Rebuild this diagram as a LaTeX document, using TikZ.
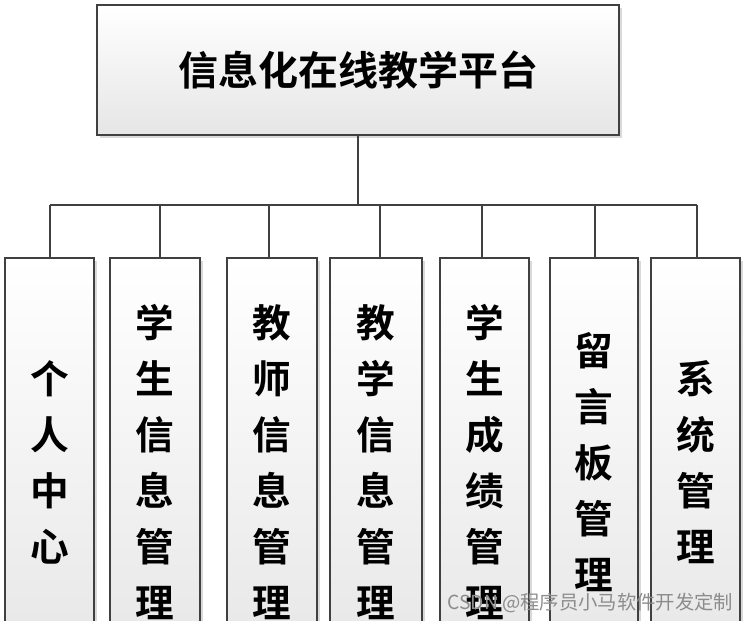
\documentclass[tikz,border=0pt]{standalone}
\usepackage{fontspec}
\setmainfont{Noto Sans CJK SC}
\newfontfamily\cjkbold{Noto Sans CJK SC Bold}
\usetikzlibrary{shadows}
\tikzset{
	modbox/.style={draw=black!75, line width=0.8pt, top color=white, bottom color=black!10,
		drop shadow={shadow xshift=2pt, shadow yshift=-2pt, opacity=0.3}},
	link/.style={draw=black!75, line width=1.6pt},
	modtext/.style={font=\cjkbold\fontsize{29}{42}\selectfont, align=center, inner sep=0pt}
}
\begin{document}
\begin{tikzpicture}[x=0.75pt,y=-0.75pt]
	\useasboundingbox (0,0) rectangle (750,621);
	\clip (0,0) rectangle (750,621);
	% top box
	\draw[modbox] (97,5) rectangle (619,135);
	\node[font=\cjkbold\fontsize{30}{36}\selectfont] (root) at (358,70) {信息化在线教学平台};
	\coordinate (rootbot) at (358,135);
	\coordinate (split) at (358,205);
	\draw[link] (rootbot) -- (split);
	\draw[link] (50,205) -- (697,205);
	% modules
	\foreach \l/\r/\c/\txt [count=\i] in {
		5/94/50/{个\\人\\中\\心},
		110/200/160/{学\\生\\信\\息\\管\\理},
		227/317/269/{教\\师\\信\\息\\管\\理},
		330/422/380/{教\\学\\信\\息\\管\\理},
		440/529/482/{学\\生\\成\\绩\\管\\理},
		550/638/595/{留\\言\\板\\管\\理},
		651/740/697/{系\\统\\管\\理}} {
		\draw[modbox] (\l,258) rectangle (\r,680);
		\coordinate (top\i) at (\c,258);
		\coordinate (drop\i) at (\c,205);
		\draw[link] (drop\i) -- (top\i);
		\node[modtext] (mod\i) at ({(\l+\r)/2},462) {\txt};
	}
	\node[text=black!45, font=\fontsize{14.5}{16}\selectfont, anchor=east] (mark) at (738,603) {CSDN @程序员小马软件开发定制};
\end{tikzpicture}
\end{document}
